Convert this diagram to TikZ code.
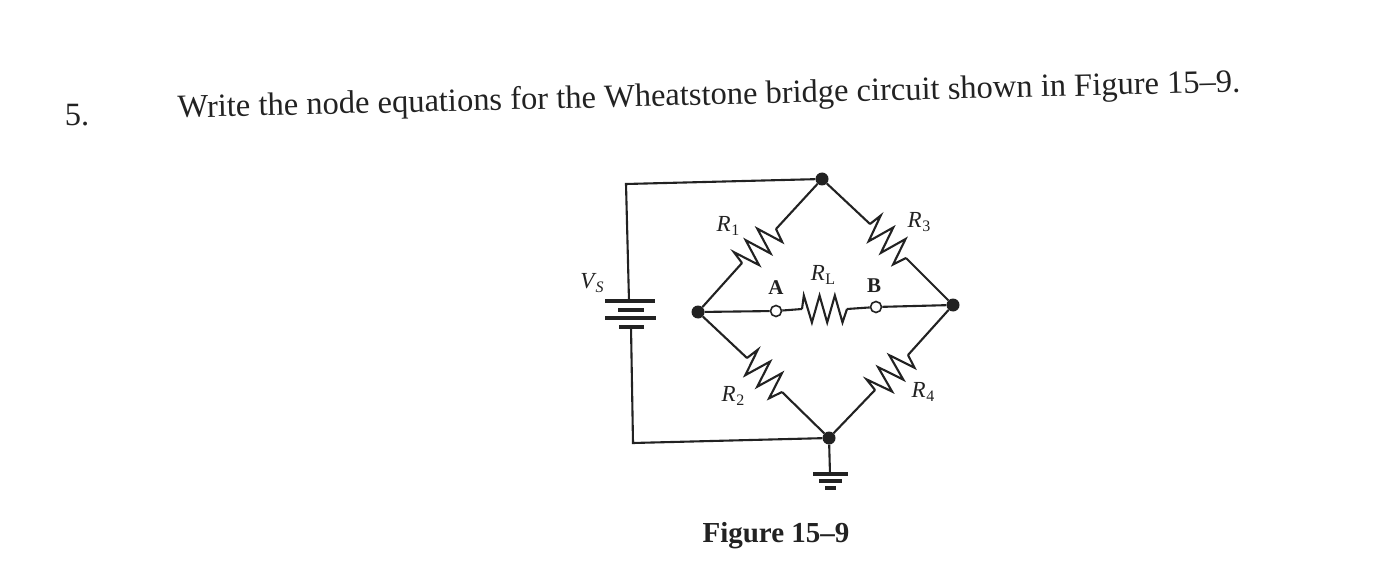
\documentclass[tikz,border=0pt]{standalone}
\usepackage{fontspec}
\setmainfont{Liberation Serif}
\usetikzlibrary{calc}
\definecolor{ink}{HTML}{222222}
\newcommand{\zigres}[2]{%
  \draw[wire,line join=miter] (#1)
   -- ($(#1)!.04!(#2)!13.5pt!90:(#2)$)
   -- ($(#1)!.22!(#2)!13.5pt!-90:(#2)$)
   -- ($(#1)!.39!(#2)!13.5pt!90:(#2)$)
   -- ($(#1)!.56!(#2)!13.5pt!-90:(#2)$)
   -- ($(#1)!.73!(#2)!13.5pt!90:(#2)$)
   -- ($(#1)!.90!(#2)!13.5pt!-90:(#2)$)
   -- (#2);}
\tikzset{
  wire/.style={draw=ink,line width=2.1pt},
  plate/.style={draw=ink,line width=3.4pt},
  dot/.style={circle,fill=ink,draw=none,minimum size=13pt,inner sep=0pt},
  term/.style={circle,fill=white,draw=ink,line width=1.6pt,minimum size=11pt,inner sep=0pt},
  lab/.style={text=ink,inner sep=0pt,font=\fontsize{23}{25}\selectfont\itshape},
  lett/.style={text=ink,inner sep=0pt,font=\fontsize{21}{23}\selectfont\bfseries},
  body/.style={text=ink,inner sep=0pt,font=\fontsize{32.5}{36}\selectfont}
}
\begin{document}
\begin{tikzpicture}[x=1pt,y=-1pt]
\useasboundingbox (0,0) rectangle (1389,572);
\fill[white] (0,0) rectangle (1389,572);
% text
\node[body] (num) at (77,115) {5.};
\node[body,rotate=1.4] (stmt) at (709,97) {Write the node equations for the Wheatstone bridge circuit shown in Figure 15--9.};
\node[text=ink,inner sep=0pt,font=\fontsize{29}{32}\selectfont\bfseries] (cap) at (776,536) {Figure 15--9};
% junctions
\node[dot] (T) at (822,179) {};
\node[dot] (L) at (698,312) {};
\node[dot] (Rt) at (953,305) {};
\node[dot] (Bt) at (829,438) {};
\node[term] (A) at (776,311) {};
\node[term] (B) at (876,307) {};
% resistor ends
\coordinate (r1a) at (742,263); \coordinate (r1b) at (776,229);
\coordinate (r2a) at (747,358); \coordinate (r2b) at (782,392);
\coordinate (r3a) at (870,224); \coordinate (r3b) at (906,258);
\coordinate (r4a) at (875,390); \coordinate (r4b) at (908,355);
\coordinate (rla) at (802,309); \coordinate (rlb) at (847,309);
% source
\coordinate (c1) at (626,184);
\coordinate (c2) at (633,443);
\coordinate (bat1) at (629,301);
\coordinate (bat2) at (631,327);
\coordinate (gnd) at (830,474);
\draw[wire] (T) -- (c1) -- (bat1);
\draw[wire] (bat2) -- (c2) -- (Bt);
\draw[plate] (605,301) -- (655,301);
\draw[plate] (618,310) -- (644,310);
\draw[plate] (605,318) -- (656,318);
\draw[plate] (619,327) -- (644,327);
% bridge
\draw[wire] (L) -- (r1a); \zigres{r1a}{r1b} \draw[wire] (r1b) -- (T);
\draw[wire] (L) -- (r2a); \zigres{r2a}{r2b} \draw[wire] (r2b) -- (Bt);
\draw[wire] (T) -- (r3a); \zigres{r3a}{r3b} \draw[wire] (r3b) -- (Rt);
\draw[wire] (Bt) -- (r4a); \zigres{r4a}{r4b} \draw[wire] (r4b) -- (Rt);
\draw[wire] (L) -- (A); \draw[wire] (A) -- (rla); \zigres{rla}{rlb} \draw[wire] (rlb) -- (B); \draw[wire] (B) -- (Rt);
% ground
\draw[wire] (Bt) -- (gnd);
\draw[plate] (813,474) -- (848,474);
\draw[plate] (819,481) -- (842,481);
\draw[plate] (825,488) -- (836,488);
% labels
\node[lab] (lvs) at (592,283) {V\kern1pt\raisebox{-4pt}{\fontsize{16}{17}\selectfont S}};
\node[lab] (lr1) at (728,226) {R\kern0.5pt\raisebox{-4pt}{\fontsize{16}{17}\selectfont\upshape 1}};
\node[lab] (lr2) at (733,396) {R\kern0.5pt\raisebox{-4pt}{\fontsize{16}{17}\selectfont\upshape 2}};
\node[lab] (lr3) at (919,222) {R\kern0.5pt\raisebox{-4pt}{\fontsize{16}{17}\selectfont\upshape 3}};
\node[lab] (lr4) at (923,392) {R\kern0.5pt\raisebox{-4pt}{\fontsize{16}{17}\selectfont\upshape 4}};
\node[lab] (lrl) at (823,275) {R\kern0.5pt\raisebox{-4pt}{\fontsize{16}{17}\selectfont\upshape L}};
\node[lett] (la) at (776,288) {A};
\node[lett] (lb) at (874,286) {B};
\end{tikzpicture}
\end{document}
